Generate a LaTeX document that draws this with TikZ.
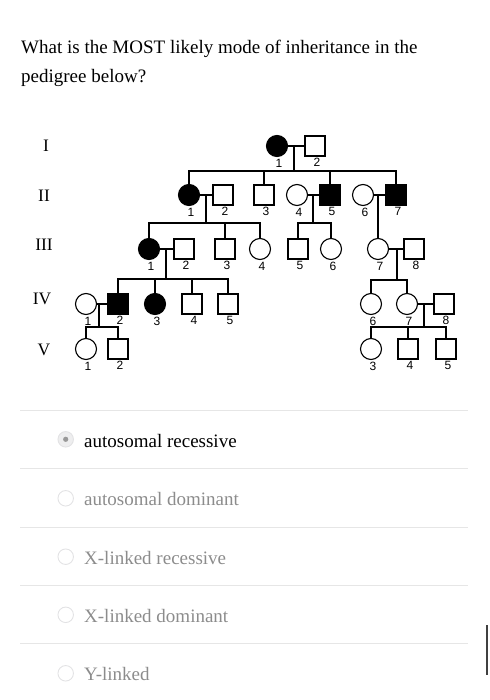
\documentclass[tikz,border=0pt]{standalone}
\usepackage{fontspec}
\setmainfont{Liberation Serif}
\newfontfamily\numfont{Liberation Sans}
\usetikzlibrary{positioning}
\definecolor{optgray}{HTML}{8C8C8C}
\definecolor{sepgray}{HTML}{E6E6E6}
\definecolor{radiogray}{HTML}{E2E2E4}

\begin{document}
\begin{tikzpicture}[x=1pt, y=-1pt,
    male/.style={draw, rectangle, line width=1.1pt, minimum size=20pt, inner sep=0pt},
    female/.style={draw, circle, line width=1.1pt, minimum size=21pt, inner sep=0pt},
    hit/.style={fill=black},
    lbl/.style={font=\numfont\fontsize{12}{12}\selectfont, inner sep=1.5pt, xshift=2pt},
    line/.style={line width=1.1pt},
    gen/.style={font=\fontsize{17.5}{17.5}\selectfont},
    opt/.style={anchor=base west, inner sep=0pt, font=\fontsize{19}{19}\selectfont, text=optgray},
    radio/.style={draw=radiogray, circle, line width=0.9pt, minimum size=15.5pt, inner sep=0pt}]
    \useasboundingbox (0,0) rectangle (489,700);

    % question
    \node[anchor=base west, inner sep=0pt, font=\fontsize{19}{19}\selectfont] (q1) at (21,54) {What is the MOST likely mode of inheritance in the};
    \node[anchor=base west, inner sep=0pt, font=\fontsize{19}{19}\selectfont] (q2) at (21,83) {pedigree below?};

    % generation numbers
    \node[gen] (gI) at (46,146) {I};
    \node[gen] (gII) at (44,196) {II};
    \node[gen] (gIII) at (44,245) {III};
    \node[gen] (gIV) at (42,299) {IV};
    \node[gen] (gV) at (44,350) {V};

    % generation I
    \node[female, hit, label={[lbl]below:1}] (I1) at (277,146) {};
    \node[male, label={[lbl]below:2}] (I2) at (315,146) {};
    \draw[line] (I1) -- (I2);
    \coordinate (mI) at (294,146);
    \coordinate (sI) at (294,171);
    \draw[line] (mI) -- (sI);

    % generation II
    \node[female, hit, label={[lbl]below:1}] (II1) at (189,195) {};
    \node[male, label={[lbl]below:2}] (II2) at (223,195) {};
    \node[male, label={[lbl]below:3}] (II3) at (264,195) {};
    \node[female, label={[lbl]below:4}] (II4) at (297,195) {};
    \node[male, hit, label={[lbl]below:5}] (II5) at (330,195) {};
    \node[female, label={[lbl]below:6}] (II6) at (363,195) {};
    \node[male, hit, label={[lbl]below:7}] (II7) at (396,195) {};
    \draw[line] (II1.north) |- (sI) -| (II7.north);
    \draw[line] (II3.north) -- (II3 |- sI);
    \draw[line] (II5.north) -- (II5 |- sI);
    \draw[line] (II1) -- (II2);
    \draw[line] (II4) -- (II5);
    \draw[line] (II6) -- (II7);
    \coordinate (mII1) at (206,195);
    \coordinate (sII1) at (206,223);
    \coordinate (mII2) at (313,195);
    \coordinate (sII2) at (313,223);
    \coordinate (mII3) at (378,195);
    \draw[line] (mII1) -- (sII1);
    \draw[line] (mII2) -- (sII2);

    % generation III
    \node[female, hit, label={[lbl]below:1}] (III1) at (149,249) {};
    \node[male, label={[lbl]below:2}] (III2) at (184,249) {};
    \node[male, label={[lbl]below:3}] (III3) at (225,249) {};
    \node[female, label={[lbl]below:4}] (III4) at (260,249) {};
    \node[male, label={[lbl]below:5}] (III5) at (298,249) {};
    \node[female, label={[lbl]below:6}] (III6) at (331,249) {};
    \node[female, label={[lbl]below:7}] (III7) at (378,249) {};
    \node[male, label={[lbl]below:8}] (III8) at (414,249) {};
    \draw[line] (mII3) -- (III7.north);
    \draw[line] (III1.north) |- (sII1) -| (III4.north);
    \draw[line] (III3.north) -- (III3 |- sII1);
    \draw[line] (III5.north) |- (sII2) -| (III6.north);
    \draw[line] (III1) -- (III2);
    \draw[line] (III7) -- (III8);
    \coordinate (mIII1) at (166,249);
    \coordinate (sIII1) at (166,279);
    \coordinate (mIII2) at (397,249);
    \coordinate (sIII2) at (397,280);
    \draw[line] (mIII1) -- (sIII1);
    \draw[line] (mIII2) -- (sIII2);

    % generation IV
    \node[female, label={[lbl]below:1}] (IV1) at (86,304) {};
    \node[male, hit, label={[lbl]below:2}] (IV2) at (118,304) {};
    \node[female, hit, label={[lbl]below:3}] (IV3) at (155,304) {};
    \node[male, label={[lbl]below:4}] (IV4) at (192,304) {};
    \node[male, label={[lbl]below:5}] (IV5) at (228,304) {};
    \node[female, label={[lbl]below:6}] (IV6) at (371,304) {};
    \node[female, label={[lbl]below:7}] (IV7) at (407,304) {};
    \node[male, label={[lbl]below:8}] (IV8) at (444,304) {};
    \draw[line] (IV2.north) |- (sIII1) -| (IV5.north);
    \draw[line] (IV3.north) -- (IV3 |- sIII1);
    \draw[line] (IV4.north) -- (IV4 |- sIII1);
    \draw[line] (IV6.north) |- (sIII2) -| (IV7.north);
    \draw[line] (IV1) -- (IV2);
    \draw[line] (IV7) -- (IV8);
    \coordinate (mIV1) at (99,304);
    \coordinate (sIV1) at (99,327);
    \coordinate (mIV2) at (424,304);
    \coordinate (sIV2) at (424,327);
    \draw[line] (mIV1) -- (sIV1);
    \draw[line] (mIV2) -- (sIV2);

    % generation V
    \node[female, label={[lbl]below:1}] (V1) at (86,349) {};
    \node[male, label={[lbl]below:2}] (V2) at (118,349) {};
    \node[female, label={[lbl]below:3}] (V3) at (371,349) {};
    \node[male, label={[lbl]below:4}] (V4) at (408,349) {};
    \node[male, label={[lbl]below:5}] (V5) at (446,349) {};
    \draw[line] (V1.north) |- (sIV1) -| (V2.north);
    \draw[line] (V3.north) |- (sIV2) -| (V5.north);
    \draw[line] (V4.north) -- (V4 |- sIV2);

    % answer choices
    \foreach \y in {410,468.5,527,585,643.5}
        \draw[sepgray, line width=0.9pt] (20,\y) -- (468,\y);
    \node[radio, fill=radiogray!60] (r1) at (65.7,439.3) {};
    \fill[gray!80] (r1) circle (2.6pt);
    \node[radio] (r2) at (65.7,498.3) {};
    \node[radio] (r3) at (65.7,556.7) {};
    \node[radio] (r4) at (65.7,614.8) {};
    \node[radio] (r5) at (65.7,673.3) {};
    \node[opt, text=black] (o1) at (84,447) {autosomal recessive};
    \node[opt] (o2) at (84,505.5) {autosomal dominant};
    \node[opt] (o3) at (84,564) {X-linked recessive};
    \node[opt] (o4) at (84,622) {X-linked dominant};
    \node[opt] (o5) at (84,680.5) {Y-linked};

    % scrollbar
    \draw[black!75, line width=2pt] (487,625) -- (487,675);
\end{tikzpicture}
\end{document}
